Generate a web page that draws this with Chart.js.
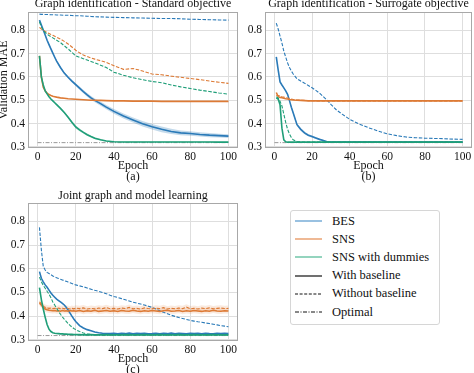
<!DOCTYPE html>
<html>
<head>
<meta charset="utf-8">
<script src="https://cdn.jsdelivr.net/npm/chart.js@4.4.0/dist/chart.umd.min.js"></script>
<style>
  body { margin: 0; background: #fff; }
  #wrap { position: relative; width: 474px; height: 373px; overflow: hidden; font-family: 'Liberation Serif', 'Times New Roman', serif; }
  canvas { position: absolute; }
  #legend { position: absolute; left: 290px; top: 210px; width: 148px; height: 113px; border: 1px solid #d6d6d6; border-radius: 3px; background: #fff; }
  .row { position: absolute; left: 4px; height: 16px; display: flex; align-items: center; font-size: 12.5px; color: #111; white-space: nowrap; }
  .row svg { width: 27px; height: 4px; margin-right: 10px; }
</style>
</head>
<body>
<div id="wrap">
  <canvas id="chart-a" width="240" height="191" style="left:0;top:-6px"></canvas>
  <canvas id="chart-b" width="234" height="191" style="left:240px;top:-6px"></canvas>
  <canvas id="chart-c" width="240" height="193" style="left:0;top:185px"></canvas>
  <div id="legend">
    <div class="row" style="top:2px"><svg><line x1="0" y1="2" x2="27" y2="2" stroke="#80b2da" stroke-width="1.6"/></svg>BES</div>
    <div class="row" style="top:20.2px"><svg><line x1="0" y1="2" x2="27" y2="2" stroke="#eba87b" stroke-width="1.6"/></svg>SNS</div>
    <div class="row" style="top:38.4px"><svg><line x1="0" y1="2" x2="27" y2="2" stroke="#79c9ae" stroke-width="1.6"/></svg>SNS with dummies</div>
    <div class="row" style="top:56.6px"><svg><line x1="0" y1="2" x2="27" y2="2" stroke="#111" stroke-width="1.2"/></svg>With baseline</div>
    <div class="row" style="top:74.8px"><svg><line x1="0" y1="2" x2="27" y2="2" stroke="#111" stroke-width="1" stroke-dasharray="3 1.6"/></svg>Without baseline</div>
    <div class="row" style="top:93px"><svg><line x1="0" y1="2" x2="27" y2="2" stroke="#111" stroke-width="1" stroke-dasharray="4 1.5 1 1.5"/></svg>Optimal</div>
  </div>
</div>
<script>
// tick labels
const xTicks = [0, 20, 40, 60, 80, 100];
const yTicks = [0.3, 0.4, 0.5, 0.6, 0.7, 0.8];

// optimal reference
const optX = [0, 100];
const optY = [0.318, 0.318];

// (a) Graph identification - Standard objective
const epochsA = [1, 2, 3, 4, 5, 6, 7, 8, 9, 10, 12, 14, 16, 18, 20, 22, 24, 26, 28, 30, 33, 36, 40, 45, 50, 55, 60, 65, 70, 75, 80, 85, 90, 95, 100];
const besA = [0.843, 0.822, 0.801, 0.779, 0.757, 0.738, 0.72, 0.702, 0.684, 0.667, 0.64, 0.616, 0.598, 0.582, 0.567, 0.552, 0.537, 0.523, 0.51, 0.499, 0.485, 0.47, 0.452, 0.432, 0.415, 0.399, 0.386, 0.375, 0.366, 0.36, 0.357, 0.353, 0.35, 0.348, 0.346];
const besASpread = [0.003, 0.003, 0.003, 0.003, 0.003, 0.004, 0.004, 0.004, 0.004, 0.004, 0.005, 0.005, 0.005, 0.006, 0.006, 0.007, 0.007, 0.008, 0.008, 0.008, 0.009, 0.009, 0.01, 0.011, 0.011, 0.012, 0.012, 0.012, 0.011, 0.01, 0.01, 0.009, 0.009, 0.008, 0.008];
const besADash = [0.869, 0.868, 0.868, 0.867, 0.867, 0.867, 0.866, 0.866, 0.866, 0.865, 0.865, 0.864, 0.864, 0.863, 0.862, 0.862, 0.861, 0.86, 0.859, 0.858, 0.857, 0.856, 0.855, 0.854, 0.853, 0.852, 0.851, 0.85, 0.85, 0.849, 0.847, 0.846, 0.845, 0.844, 0.843];
const snsA = [0.69, 0.6, 0.555, 0.54, 0.53, 0.524, 0.52, 0.517, 0.515, 0.513, 0.51, 0.508, 0.506, 0.505, 0.504, 0.503, 0.502, 0.501, 0.5, 0.5, 0.499, 0.498, 0.497, 0.497, 0.496, 0.496, 0.496, 0.495, 0.495, 0.495, 0.495, 0.495, 0.495, 0.495, 0.495];
const snsADash = [0.812, 0.805, 0.8, 0.795, 0.79, 0.786, 0.782, 0.778, 0.774, 0.77, 0.762, 0.752, 0.741, 0.728, 0.714, 0.703, 0.694, 0.687, 0.681, 0.676, 0.669, 0.662, 0.648, 0.632, 0.636, 0.625, 0.612, 0.609, 0.603, 0.598, 0.593, 0.588, 0.582, 0.577, 0.572];
const dumA = [0.69, 0.6, 0.565, 0.54, 0.527, 0.515, 0.505, 0.497, 0.489, 0.481, 0.465, 0.447, 0.427, 0.405, 0.385, 0.373, 0.362, 0.352, 0.344, 0.337, 0.33, 0.325, 0.322, 0.321, 0.321, 0.321, 0.321, 0.321, 0.321, 0.321, 0.321, 0.321, 0.321, 0.32, 0.32];
const dumASpread = [0.002, 0.002, 0.002, 0.002, 0.002, 0.002, 0.002, 0.002, 0.002, 0.002, 0.003, 0.004, 0.005, 0.006, 0.006, 0.006, 0.005, 0.005, 0.004, 0.004, 0.003, 0.002, 0.002, 0.002, 0.002, 0.002, 0.002, 0.002, 0.002, 0.002, 0.002, 0.002, 0.002, 0.002, 0.002];
const dumADash = [0.835, 0.815, 0.8, 0.79, 0.783, 0.777, 0.772, 0.767, 0.762, 0.757, 0.747, 0.733, 0.72, 0.705, 0.69, 0.684, 0.678, 0.672, 0.666, 0.66, 0.65, 0.64, 0.62, 0.607, 0.596, 0.588, 0.58, 0.575, 0.565, 0.557, 0.55, 0.543, 0.537, 0.531, 0.526];

// (b) Graph identification - Surrogate objective
const epochsB = [1, 2, 3, 4, 5, 6, 7, 8, 9, 10, 12, 14, 16, 18, 20, 22, 24, 26, 28, 30, 33, 36, 40, 45, 50, 55, 60, 65, 70, 75, 80, 85, 90, 95, 100];
const besB = [0.686, 0.63, 0.578, 0.565, 0.553, 0.54, 0.525, 0.498, 0.47, 0.445, 0.395, 0.375, 0.36, 0.35, 0.344, 0.338, 0.332, 0.327, 0.322, 0.32, 0.32, 0.32, 0.32, 0.32, 0.32, 0.32, 0.32, 0.32, 0.32, 0.32, 0.32, 0.32, 0.32, 0.32, 0.32];
const besBSpread = [0.002, 0.002, 0.002, 0.002, 0.002, 0.002, 0.002, 0.002, 0.004, 0.005, 0.006, 0.006, 0.006, 0.005, 0.005, 0.004, 0.003, 0.003, 0.002, 0.002, 0.002, 0.002, 0.002, 0.002, 0.002, 0.002, 0.002, 0.002, 0.002, 0.002, 0.002, 0.002, 0.002, 0.002, 0.002];
const besBDash = [0.83, 0.805, 0.775, 0.745, 0.71, 0.685, 0.66, 0.64, 0.625, 0.612, 0.592, 0.582, 0.573, 0.563, 0.553, 0.542, 0.53, 0.515, 0.5, 0.482, 0.458, 0.44, 0.418, 0.398, 0.382, 0.368, 0.356, 0.348, 0.342, 0.339, 0.337, 0.336, 0.335, 0.333, 0.332];
const snsB = [0.533, 0.515, 0.512, 0.51, 0.508, 0.506, 0.505, 0.503, 0.502, 0.501, 0.5, 0.499, 0.498, 0.497, 0.497, 0.497, 0.497, 0.497, 0.497, 0.497, 0.497, 0.497, 0.497, 0.497, 0.497, 0.497, 0.497, 0.497, 0.497, 0.497, 0.497, 0.497, 0.497, 0.497, 0.497];
const snsBDash = [0.52, 0.52, 0.518, 0.515, 0.513, 0.511, 0.509, 0.507, 0.505, 0.503, 0.501, 0.5, 0.499, 0.498, 0.498, 0.497, 0.497, 0.497, 0.497, 0.497, 0.497, 0.497, 0.497, 0.497, 0.497, 0.497, 0.497, 0.497, 0.497, 0.497, 0.497, 0.497, 0.497, 0.497, 0.497];
const dumB = [0.51, 0.505, 0.48, 0.38, 0.33, 0.322, 0.32, 0.32, 0.32, 0.32, 0.32, 0.32, 0.32, 0.32, 0.32, 0.32, 0.32, 0.32, 0.32, 0.32, 0.32, 0.32, 0.32, 0.32, 0.32, 0.32, 0.32, 0.32, 0.32, 0.32, 0.32, 0.32, 0.32, 0.32, 0.32];
const dumBDash = [0.515, 0.51, 0.495, 0.475, 0.44, 0.405, 0.375, 0.355, 0.34, 0.33, 0.323, 0.321, 0.32, 0.32, 0.32, 0.32, 0.32, 0.32, 0.32, 0.32, 0.32, 0.32, 0.32, 0.32, 0.32, 0.32, 0.32, 0.32, 0.32, 0.32, 0.32, 0.32, 0.32, 0.32, 0.32];

// (c) Joint graph and model learning
const epochsC = [1, 2, 3, 4, 5, 6, 7, 8, 9, 10, 11, 12, 13, 14, 15, 16, 17, 18, 19, 20,
  22, 24, 26, 28, 30, 32, 34, 36, 38, 40, 42, 44, 46, 48, 50, 52, 54, 56, 58, 60,
  62, 64, 66, 68, 70, 72, 74, 76, 78, 80, 82, 84, 86, 88, 90, 92, 94, 96, 98, 100];
const besC = [0.588, 0.56, 0.545, 0.532, 0.522, 0.51, 0.498, 0.488, 0.48, 0.472, 0.466, 0.46, 0.454, 0.447, 0.438, 0.426, 0.413, 0.4, 0.388, 0.377,
  0.36, 0.35, 0.343, 0.338, 0.333, 0.33, 0.328, 0.327, 0.326, 0.328, 0.325, 0.327, 0.326, 0.329, 0.325, 0.327, 0.326, 0.328,
  0.325, 0.326, 0.328, 0.325, 0.327, 0.326, 0.329, 0.325, 0.327, 0.326, 0.325, 0.328, 0.326, 0.327, 0.325, 0.328, 0.326, 0.325, 0.327, 0.326, 0.328, 0.326];
const besCDash = [0.775, 0.68, 0.61, 0.595, 0.585, 0.58, 0.575, 0.57, 0.566, 0.562, 0.559, 0.556, 0.553, 0.55, 0.547, 0.544, 0.541, 0.538, 0.535, 0.532,
  0.528, 0.524, 0.519, 0.514, 0.509, 0.505, 0.5, 0.495, 0.488, 0.483, 0.479, 0.474, 0.469, 0.464, 0.459, 0.455, 0.451, 0.447, 0.442, 0.437,
  0.43, 0.423, 0.416, 0.41, 0.404, 0.399, 0.394, 0.39, 0.386, 0.382, 0.379, 0.376, 0.374, 0.371, 0.369, 0.366, 0.363, 0.36, 0.358, 0.355];
const snsC = [0.455, 0.447, 0.437, 0.43, 0.427, 0.425, 0.424, 0.423, 0.424, 0.422, 0.423, 0.421, 0.424, 0.422, 0.423, 0.421, 0.424, 0.422, 0.423, 0.421,
  0.424, 0.42, 0.423, 0.421, 0.425, 0.42, 0.422, 0.424, 0.421, 0.423, 0.42, 0.424, 0.422, 0.421, 0.425, 0.422, 0.42, 0.423, 0.421, 0.424,
  0.422, 0.42, 0.423, 0.425, 0.421, 0.422, 0.424, 0.42, 0.423, 0.421, 0.424, 0.422, 0.42, 0.423, 0.421, 0.425, 0.422, 0.421, 0.423, 0.422];
const snsCDash = [0.46, 0.452, 0.442, 0.437, 0.435, 0.433, 0.434, 0.432, 0.433, 0.431, 0.434, 0.432, 0.433, 0.431, 0.434, 0.432, 0.43, 0.433, 0.431, 0.434,
  0.432, 0.435, 0.43, 0.433, 0.431, 0.434, 0.432, 0.436, 0.431, 0.433, 0.43, 0.434, 0.432, 0.437, 0.431, 0.433, 0.43, 0.435, 0.432, 0.431,
  0.434, 0.432, 0.436, 0.43, 0.433, 0.431, 0.434, 0.432, 0.438, 0.431, 0.433, 0.43, 0.434, 0.432, 0.435, 0.431, 0.433, 0.434, 0.432, 0.433];
const snsCSpread = 0.012;
const dumC = [0.52, 0.47, 0.43, 0.395, 0.365, 0.345, 0.335, 0.33, 0.328, 0.327, 0.326, 0.325, 0.325, 0.324, 0.324, 0.323, 0.323, 0.323, 0.322, 0.322,
  0.322, 0.321, 0.321, 0.322, 0.321, 0.321, 0.321, 0.322, 0.321, 0.321, 0.321, 0.321, 0.322, 0.321, 0.321, 0.321, 0.321, 0.322, 0.321, 0.321,
  0.321, 0.322, 0.321, 0.321, 0.321, 0.321, 0.322, 0.321, 0.321, 0.321, 0.322, 0.321, 0.321, 0.321, 0.321, 0.322, 0.321, 0.321, 0.321, 0.321];
const dumCDash = [0.565, 0.545, 0.53, 0.518, 0.505, 0.493, 0.478, 0.46, 0.447, 0.433, 0.42, 0.408, 0.397, 0.387, 0.378, 0.369, 0.361, 0.354, 0.348, 0.343,
  0.335, 0.329, 0.325, 0.323, 0.322, 0.321, 0.321, 0.321, 0.321, 0.321, 0.321, 0.321, 0.321, 0.321, 0.321, 0.321, 0.321, 0.321, 0.321, 0.321,
  0.321, 0.321, 0.321, 0.321, 0.321, 0.321, 0.321, 0.321, 0.321, 0.321, 0.321, 0.321, 0.321, 0.321, 0.321, 0.321, 0.321, 0.321, 0.321, 0.321];

const BLUE = '#2a7ab8';
const ORANGE = '#dd7a35';
const GREEN = '#1f9e78';
const SERIF = "'Liberation Serif', 'Times New Roman', serif";

Chart.defaults.font.family = SERIF;
Chart.defaults.color = '#111';

function pts(xs, ys) {
    return xs.map((x, i) => ({ x: x, y: ys[i] }));
}

function line(xs, ys, color, dashed) {
    return {
        data: pts(xs, ys),
        borderColor: color,
        borderWidth: dashed ? 1.1 : 1.6,
        borderDash: dashed ? [3.5, 1.6] : [],
        pointRadius: 0,
        fill: false,
        tension: 0
    };
}

function optimal() {
    return {
        data: pts(optX, optY),
        borderColor: '#999',
        borderWidth: 1,
        borderDash: [4, 1.5, 1, 1.5],
        pointRadius: 0,
        fill: false
    };
}

// lower + upper edge, the upper one fills down to the lower one
function band(xs, ys, spread, color) {
    const sd = i => Array.isArray(spread) ? spread[i] : spread;
    const edge = {
        borderWidth: 0,
        borderColor: 'transparent',
        pointRadius: 0
    };
    return [
        Object.assign({ data: pts(xs, ys.map((v, i) => v - sd(i))), fill: false }, edge),
        Object.assign({ data: pts(xs, ys.map((v, i) => v + sd(i))), fill: '-1', backgroundColor: color }, edge)
    ];
}

const frame = {
    id: 'frame',
    afterDatasetsDraw(chart) {
        const { ctx, chartArea: a } = chart;
        ctx.save();
        ctx.strokeStyle = '#a8a8a8';
        ctx.lineWidth = 1;
        ctx.strokeRect(Math.round(a.left) + 0.5, Math.round(a.top) + 0.5, Math.round(a.width) - 1, Math.round(a.height) - 1);
        ctx.restore();
    }
};

function createPanel(id, title, titlePad, sub, yTitle, yWidth, datasets) {
    const ctx = document.getElementById(id);
    return new Chart(ctx, {
        type: 'line',
        data: { datasets: datasets },
        plugins: [frame],
        options: {
            responsive: false,
            devicePixelRatio: 1,
            animation: false,
            events: [],
            layout: { padding: { left: 0, right: 2, top: 0, bottom: 0 } },
            plugins: {
                legend: { display: false },
                tooltip: { enabled: false },
                title: {
                    display: true,
                    text: title,
                    fullSize: false,
                    color: '#111',
                    font: { family: SERIF, size: 12, weight: 'normal' },
                    padding: titlePad
                }
            },
            scales: {
                x: {
                    type: 'linear',
                    min: -5,
                    max: 105,
                    afterBuildTicks: s => { s.ticks = xTicks.map(v => ({ value: v })); },
                    afterFit: s => { s.height = 37; },
                    grid: { color: '#dedede', drawTicks: false },
                    border: { display: false },
                    ticks: { padding: 2, font: { family: SERIF, size: 11.5 }, color: '#111' },
                    title: {
                        display: true,
                        text: ['Epoch', sub],
                        color: '#111',
                        font: { family: SERIF, size: 12, lineHeight: 0.95 },
                        padding: { top: 0, bottom: 2 }
                    }
                },
                y: {
                    min: 0.295,
                    max: 0.878,
                    afterBuildTicks: s => { s.ticks = yTicks.map(v => ({ value: v })); },
                    afterFit: s => { s.width = yWidth; },
                    grid: { color: '#dedede', drawTicks: false },
                    border: { display: false },
                    ticks: { padding: 3, font: { family: SERIF, size: 11.5 }, color: '#111', callback: v => v.toFixed(1) },
                    title: {
                        display: !!yTitle,
                        text: yTitle,
                        color: '#111',
                        font: { family: SERIF, size: 12 },
                        padding: { top: -3, bottom: 0 }
                    }
                }
            }
        }
    });
}

// datasets listed top-most first
createPanel('chart-a', 'Graph identification - Standard objective', { top: 2.5, bottom: 1.1 }, '(a)', 'Validation MAE', 28, [
    line(epochsA, dumA, GREEN, false),
    line(epochsA, dumADash, GREEN, true),
    line(epochsA, snsA, ORANGE, false),
    line(epochsA, snsADash, ORANGE, true),
    line(epochsA, besA, BLUE, false),
    line(epochsA, besADash, BLUE, true),
    ...band(epochsA, dumA, dumASpread, 'rgba(31,158,120,0.3)'),
    ...band(epochsA, besA, besASpread, 'rgba(42,122,184,0.28)'),
    optimal()
]);

createPanel('chart-b', 'Graph identification - Surrogate objective', { top: 2.5, bottom: 1.1 }, '(b)', '', 25, [
    line(epochsB, dumB, GREEN, false),
    line(epochsB, dumBDash, GREEN, true),
    line(epochsB, snsB, ORANGE, false),
    line(epochsB, snsBDash, ORANGE, true),
    line(epochsB, besB, BLUE, false),
    line(epochsB, besBDash, BLUE, true),
    ...band(epochsB, besB, besBSpread, 'rgba(42,122,184,0.28)'),
    optimal()
]);

createPanel('chart-c', 'Joint graph and model learning', { top: 3.5, bottom: 0.1 }, '(c)', '', 28, [
    line(epochsC, dumC, GREEN, false),
    line(epochsC, dumCDash, GREEN, true),
    line(epochsC, snsC, ORANGE, false),
    line(epochsC, snsCDash, ORANGE, true),
    line(epochsC, besC, BLUE, false),
    line(epochsC, besCDash, BLUE, true),
    ...band(epochsC, snsC, snsCSpread, 'rgba(221,122,53,0.16)'),
    ...band(epochsC, snsCDash, snsCSpread, 'rgba(221,122,53,0.16)'),
    optimal()
]);
</script>
</body>
</html>
